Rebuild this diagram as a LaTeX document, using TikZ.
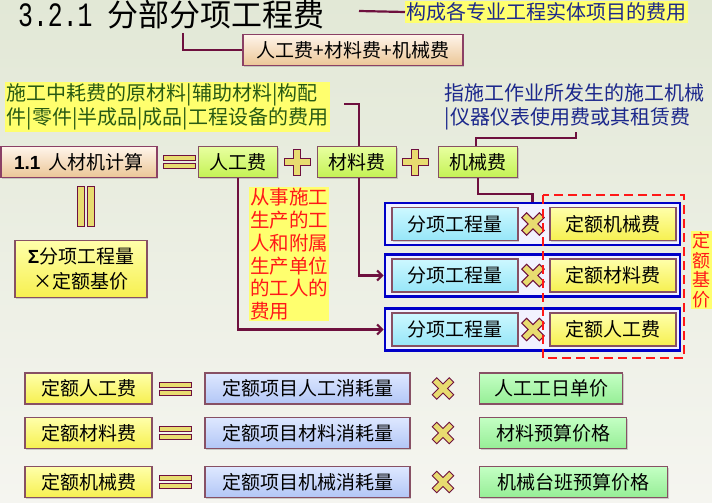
\documentclass[tikz,border=0pt]{standalone}
\usepackage{fontspec}
\usepackage{graphicx}
\setmainfont{Noto Sans CJK SC}
\newfontfamily\latf{Liberation Sans}
\newfontfamily\monof{Liberation Mono}
\usetikzlibrary{arrows.meta, positioning, shadows}
\definecolor{bgT}{RGB}{226,232,214}
\definecolor{bgB}{RGB}{245,245,240}
\definecolor{ln}{RGB}{110,16,62}
\definecolor{bdr}{RGB}{135,80,100}
\definecolor{blu}{RGB}{0,0,200}
\definecolor{navy}{RGB}{28,40,140}
\definecolor{dgreen}{RGB}{40,90,20}
\definecolor{glw}{RGB}{255,255,110}
\definecolor{symf}{RGB}{232,220,112}
\definecolor{redd}{RGB}{255,24,24}
\tikzset{
  bx/.style={rectangle, draw=bdr, line width=1.2pt, inner sep=0pt, minimum height=31pt,
             font=\fontsize{19}{22}\selectfont,
             drop shadow={shadow xshift=1.2pt, shadow yshift=-1.2pt, opacity=.35}},
  peach/.style={bx, draw=ln!80, top color=orange!8!white, bottom color={rgb,255:red,235;green,198;blue,150}},
  lime/.style={bx, top color={rgb,255:red,232;green,255;blue,160}, bottom color={rgb,255:red,196;green,242;blue,84}},
  yel/.style={bx, top color={rgb,255:red,255;green,255;blue,170}, bottom color={rgb,255:red,246;green,240;blue,80}},
  cyn/.style={bx, top color={rgb,255:red,205;green,248;blue,255}, bottom color={rgb,255:red,150;green,230;blue,248}},
  lav/.style={bx, top color={rgb,255:red,222;green,232;blue,255}, bottom color={rgb,255:red,178;green,198;blue,246}},
  mint/.style={bx, top color={rgb,255:red,196;green,255;blue,196}, bottom color={rgb,255:red,150;green,238;blue,150}},
  % blaue Rahmen der drei Zeilen
  rowb/.style={rectangle, draw=blu, line width=2.6pt, fill=white!95!blue,
               minimum width=295pt, minimum height=42pt},
  lnk/.style={draw=ln, line width=2.2pt},
  arr/.style={lnk, -{Straight Barb[length=5pt, width=10pt]}},
  symb/.style={fill=symf, draw=ln, line width=1pt},
  glow/.style={fill=glw, inner sep=1.5pt},
  txt/.style={font=\fontsize{20}{24}\selectfont, align=left, inner sep=1.5pt}
}
% Gleichheitszeichen: x, y
\newcommand{\eqsign}[2]{%
  \filldraw[symb] (#1-16,#2-6.5) rectangle (#1+16,#2-1.5);
  \filldraw[symb] (#1-16,#2+1.5) rectangle (#1+16,#2+6.5);}
% Kreuz: x, y, halbe Laenge, halbe Dicke, Drehung
\newcommand{\crossmark}[5]{%
  \filldraw[symb, shift={(#1,#2)}, rotate=#5]
    (-#4,-#3) -- (#4,-#3) -- (#4,-#4) -- (#3,-#4) -- (#3,#4) -- (#4,#4) -- (#4,#3)
    -- (-#4,#3) -- (-#4,#4) -- (-#3,#4) -- (-#3,-#4) -- (-#4,-#4) -- cycle;}

\begin{document}
\begin{tikzpicture}[x=1pt,y=-1pt]
    \useasboundingbox (0,0) rectangle (712,503);
    \shade[top color=bgT, bottom color=bgB] (0,0) rectangle (712,503);

    % ---- Titel ----
    \node[anchor=west, inner sep=0pt, font=\fontsize{31}{34}\selectfont] (title) at (18,15)
      {\scalebox{0.8}[1.1]{\monof 3.2.1\ }分部分项工程费};
    \node[txt, glow, anchor=west, text=navy] (defn) at (405,12) {构成各专业工程实体项目的费用};
    \coordinate (tl) at (359,11);
    \draw[lnk] (tl) -- (defn.west);
    \node[peach, minimum width=220pt] (rmj) at (353,50) {人工费+材料费+机械费};
    \coordinate (tb) at (183,33);
    \draw[lnk] (tb) |- (rmj.west);

    % ---- Erlaeuterungen ----
    \node[txt, glow, anchor=north west, text=dgreen] (mattxt) at (5,82)
      {施工中耗费的原材料|辅助材料|构配\\件|零件|半成品|成品|工程设备的费用};
    \node[txt, anchor=north west, text=navy] (mchtxt) at (443,82)
      {指施工作业所发生的施工机械\\|仪器仪表使用费或其租赁费};

    % ---- Zeile 1.1 ----
    \coordinate (m1) at (344,104);
    \draw[lnk] (m1) -| (359,146);
    \node[peach, minimum width=156pt] (rjc) at (79,162) {{\latf\bfseries 1.1}\ \ 人材机计算};
    \node[lime, minimum width=79pt] (rgf) at (238,162) {人工费};
    \node[lime, minimum width=79pt] (clf) at (357,162) {材料费};
    \node[lime, minimum width=79pt] (jxf) at (478,162) {机械费};
    \eqsign{179}{162}
    \crossmark{297}{162}{13}{3.4}{0}
    \crossmark{415}{162}{13}{3.4}{0}
    \coordinate (m2) at (576,132);
    \draw[lnk] (m2) -- ++(0,6) -| ([xshift=-2pt]jxf.north);

    % Summe unter 1.1
    \filldraw[symb] (77,186) rectangle (84,226);
    \filldraw[symb] (87,186) rectangle (94,226);
    \node[yel, minimum width=132pt, minimum height=57pt, align=center,
          font=\fontsize{19}{25}\selectfont] (sumb) at (81,269)
      {{\latf\bfseries Σ}分项工程量\\×定额基价};

    % ---- drei Zeilen Menge x Preis ----
    \foreach \y/\nm/\pr in {224/row1/定额机械费, 275.5/row2/定额材料费, 329.5/row3/定额人工费} {
      \node[rowb] (\nm) at (532.5,\y) {};
      \node[cyn, minimum width=126pt, minimum height=33pt] (\nm q) at (455,\y) {分项工程量};
      \node[yel, minimum width=126pt, minimum height=33pt] (\nm p) at (613,\y) {\pr};
      \crossmark{533}{\y}{12.5}{3.4}{45}
    }
    \draw[redd, line width=2.5pt, dash pattern=on 9pt off 5pt] (543,195) rectangle (684,358);
    \node[glow, text=redd, align=center, font=\fontsize{18}{19.5}\selectfont] (djj) at (701,270)
      {定\\额\\基\\价};

    % Verbindungen
    \draw[lnk] (jxf.south) -- ++(0,16) -| (row1.north);
    \draw[arr] (clf.south) ++(2,0) |- (row2.west);
    \draw[arr] (rgf.south) |- (row3.west);
    \node[glow, text=redd, anchor=north west, align=left, inner sep=1pt,
          font=\fontsize{19.5}{22.8}\selectfont] (lbr) at (249,187)
      {从事施工\\生产的工\\人和附属\\生产单位\\的工人的\\费用};

    % ---- Definitionen der Kostensaetze ----
    \foreach \y/\a/\b/\c/\w in {388.5/人工/人工/人工工日单价/143,
                                433/材料/材料/材料预算价格/147,
                                482/机械/机械/机械台班预算价格/188} {
      \node[yel, minimum width=127pt] (d\a) at (88.5,\y) {定额\a 费};
      \eqsign{175}{\y}
      \node[lav, minimum width=205pt] (x\a) at (307.5,\y) {定额项目\b 消耗量};
      \crossmark{443}{\y}{12}{3.2}{45}
      \node[mint, anchor=west, minimum width=\w pt] (p\a) at (479,\y) {\c};
    }
\end{tikzpicture}
\end{document}
